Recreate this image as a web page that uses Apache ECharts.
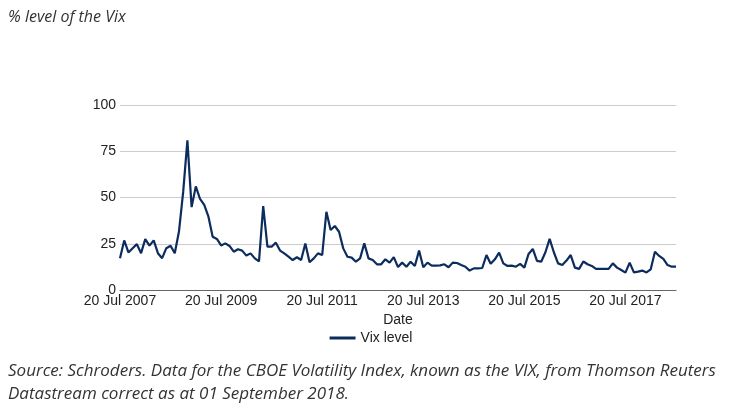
<!DOCTYPE html>
<html>
<head>
<meta charset="utf-8">
<script src="https://cdn.jsdelivr.net/npm/echarts@6/dist/echarts.min.js"></script>
<style>
  html, body { margin: 0; padding: 0; background: #fff; }
  #chart { width: 742px; height: 405px; }
</style>
</head>
<body>
<div id="chart"></div>
<script>
// monthly readings, 20th of each month, Jul 2007 - Jul 2018
const startYear = 2007
const startMonth = 6 // Jul (0-based)
const monthNames = ['Jan', 'Feb', 'Mar', 'Apr', 'May', 'Jun', 'Jul', 'Aug', 'Sep', 'Oct', 'Nov', 'Dec']

const vixLevel = [
  17.2, 26.8, 20.3, 22.6, 24.8, 19.9, 27.5, 24.0, 26.8, 19.9, 17.2, 22.6,
  23.9, 19.9, 31.6, 53.0, 80.9, 44.8, 56.0, 49.2, 46.0, 39.6, 28.8, 27.6,
  24.1, 25.2, 23.8, 20.7, 22.0, 21.3, 18.6, 19.8, 17.1, 15.5, 45.4, 23.4,
  23.4, 25.6, 21.3, 19.8, 18.0, 16.2, 17.7, 16.2, 25.1, 15.0, 17.1, 19.8,
  18.9, 42.3, 32.4, 34.6, 31.5, 22.5, 18.0, 17.5, 15.3, 17.1, 25.2, 17.1,
  16.2, 13.9, 13.9, 16.6, 14.8, 17.8, 12.4, 14.8, 12.6, 15.3, 13.0, 21.3,
  12.3, 14.8, 13.2, 13.2, 13.3, 13.9, 12.3, 14.8, 14.6, 13.5, 12.6, 10.5,
  11.7, 11.7, 11.9, 18.9, 14.2, 16.6, 20.2, 14.4, 13.0, 13.2, 12.6, 14.1,
  12.1, 19.5, 22.2, 15.7, 15.3, 20.4, 27.6, 20.4, 14.4, 13.5, 15.9, 18.9,
  12.1, 11.4, 15.4, 13.9, 13.0, 11.4, 11.4, 11.4, 11.4, 14.4, 12.1, 10.8,
  9.4, 14.8, 9.5, 9.9, 10.5, 9.5, 11.2, 20.7, 18.4, 16.8, 13.5, 12.6,
  12.6
]

const dates = vixLevel.map((_, i) => {
  const m = startMonth + i
  return '20 ' + monthNames[m % 12] + ' ' + (startYear + Math.floor(m / 12))
})

const chart = echarts.init(document.getElementById('chart'), null, { renderer: 'canvas' })

const option = {
  animation: false,
  textStyle: { fontFamily: 'Liberation Sans, Arial, sans-serif' },
  title: [
    {
      text: '% level of the Vix',
      left: 8,
      top: 9,
      padding: 0,
      textStyle: {
        fontFamily: 'Open Sans',
        fontStyle: 'italic',
        fontWeight: 'normal',
        fontSize: 16,
        color: '#333'
      }
    },
    {
      text: 'Source: Schroders. Data for the CBOE Volatility Index, known as the VIX, from Thomson Reuters\nDatastream correct as at 01 September 2018.',
      left: 8,
      top: 360,
      padding: 0,
      textStyle: {
        fontFamily: 'Open Sans',
        fontStyle: 'italic',
        fontWeight: 'normal',
        fontSize: 17,
        lineHeight: 23,
        color: '#333'
      }
    }
  ],
  legend: {
    data: [{ name: 'Vix level', icon: 'rect' }],
    top: 326,
    left: 'center',
    itemWidth: 26,
    itemHeight: 3,
    itemGap: 4,
    textStyle: { fontSize: 14, color: '#222', fontFamily: 'Liberation Sans' }
  },
  grid: {
    left: 120,
    right: 66,
    top: 105,
    bottom: 115
  },
  xAxis: {
    type: 'category',
    data: dates,
    boundaryGap: false,
    name: 'Date',
    nameLocation: 'middle',
    nameGap: 23,
    nameTextStyle: { fontSize: 14, color: '#222', fontFamily: 'Liberation Sans' },
    axisLine: { lineStyle: { color: '#666', width: 1 } },
    axisTick: { show: false },
    axisLabel: {
      interval: 23,
      hideOverlap: false,
      margin: 4,
      fontSize: 14,
      color: '#222',
      fontFamily: 'Liberation Sans'
    },
    splitLine: { show: false }
  },
  yAxis: {
    type: 'value',
    min: 0,
    max: 100,
    interval: 25,
    axisLine: { show: false },
    axisTick: { show: false },
    axisLabel: {
      margin: 4,
      fontSize: 14,
      color: '#222',
      fontFamily: 'Liberation Sans'
    },
    splitLine: { lineStyle: { color: '#ccc', width: 1 } }
  },
  series: [
    {
      name: 'Vix level',
      type: 'line',
      data: vixLevel,
      symbol: 'none',
      lineStyle: { color: '#0b2c5c', width: 2.2 },
      itemStyle: { color: '#0b2c5c' }
    }
  ]
}

chart.setOption(option)
</script>
</body>
</html>
